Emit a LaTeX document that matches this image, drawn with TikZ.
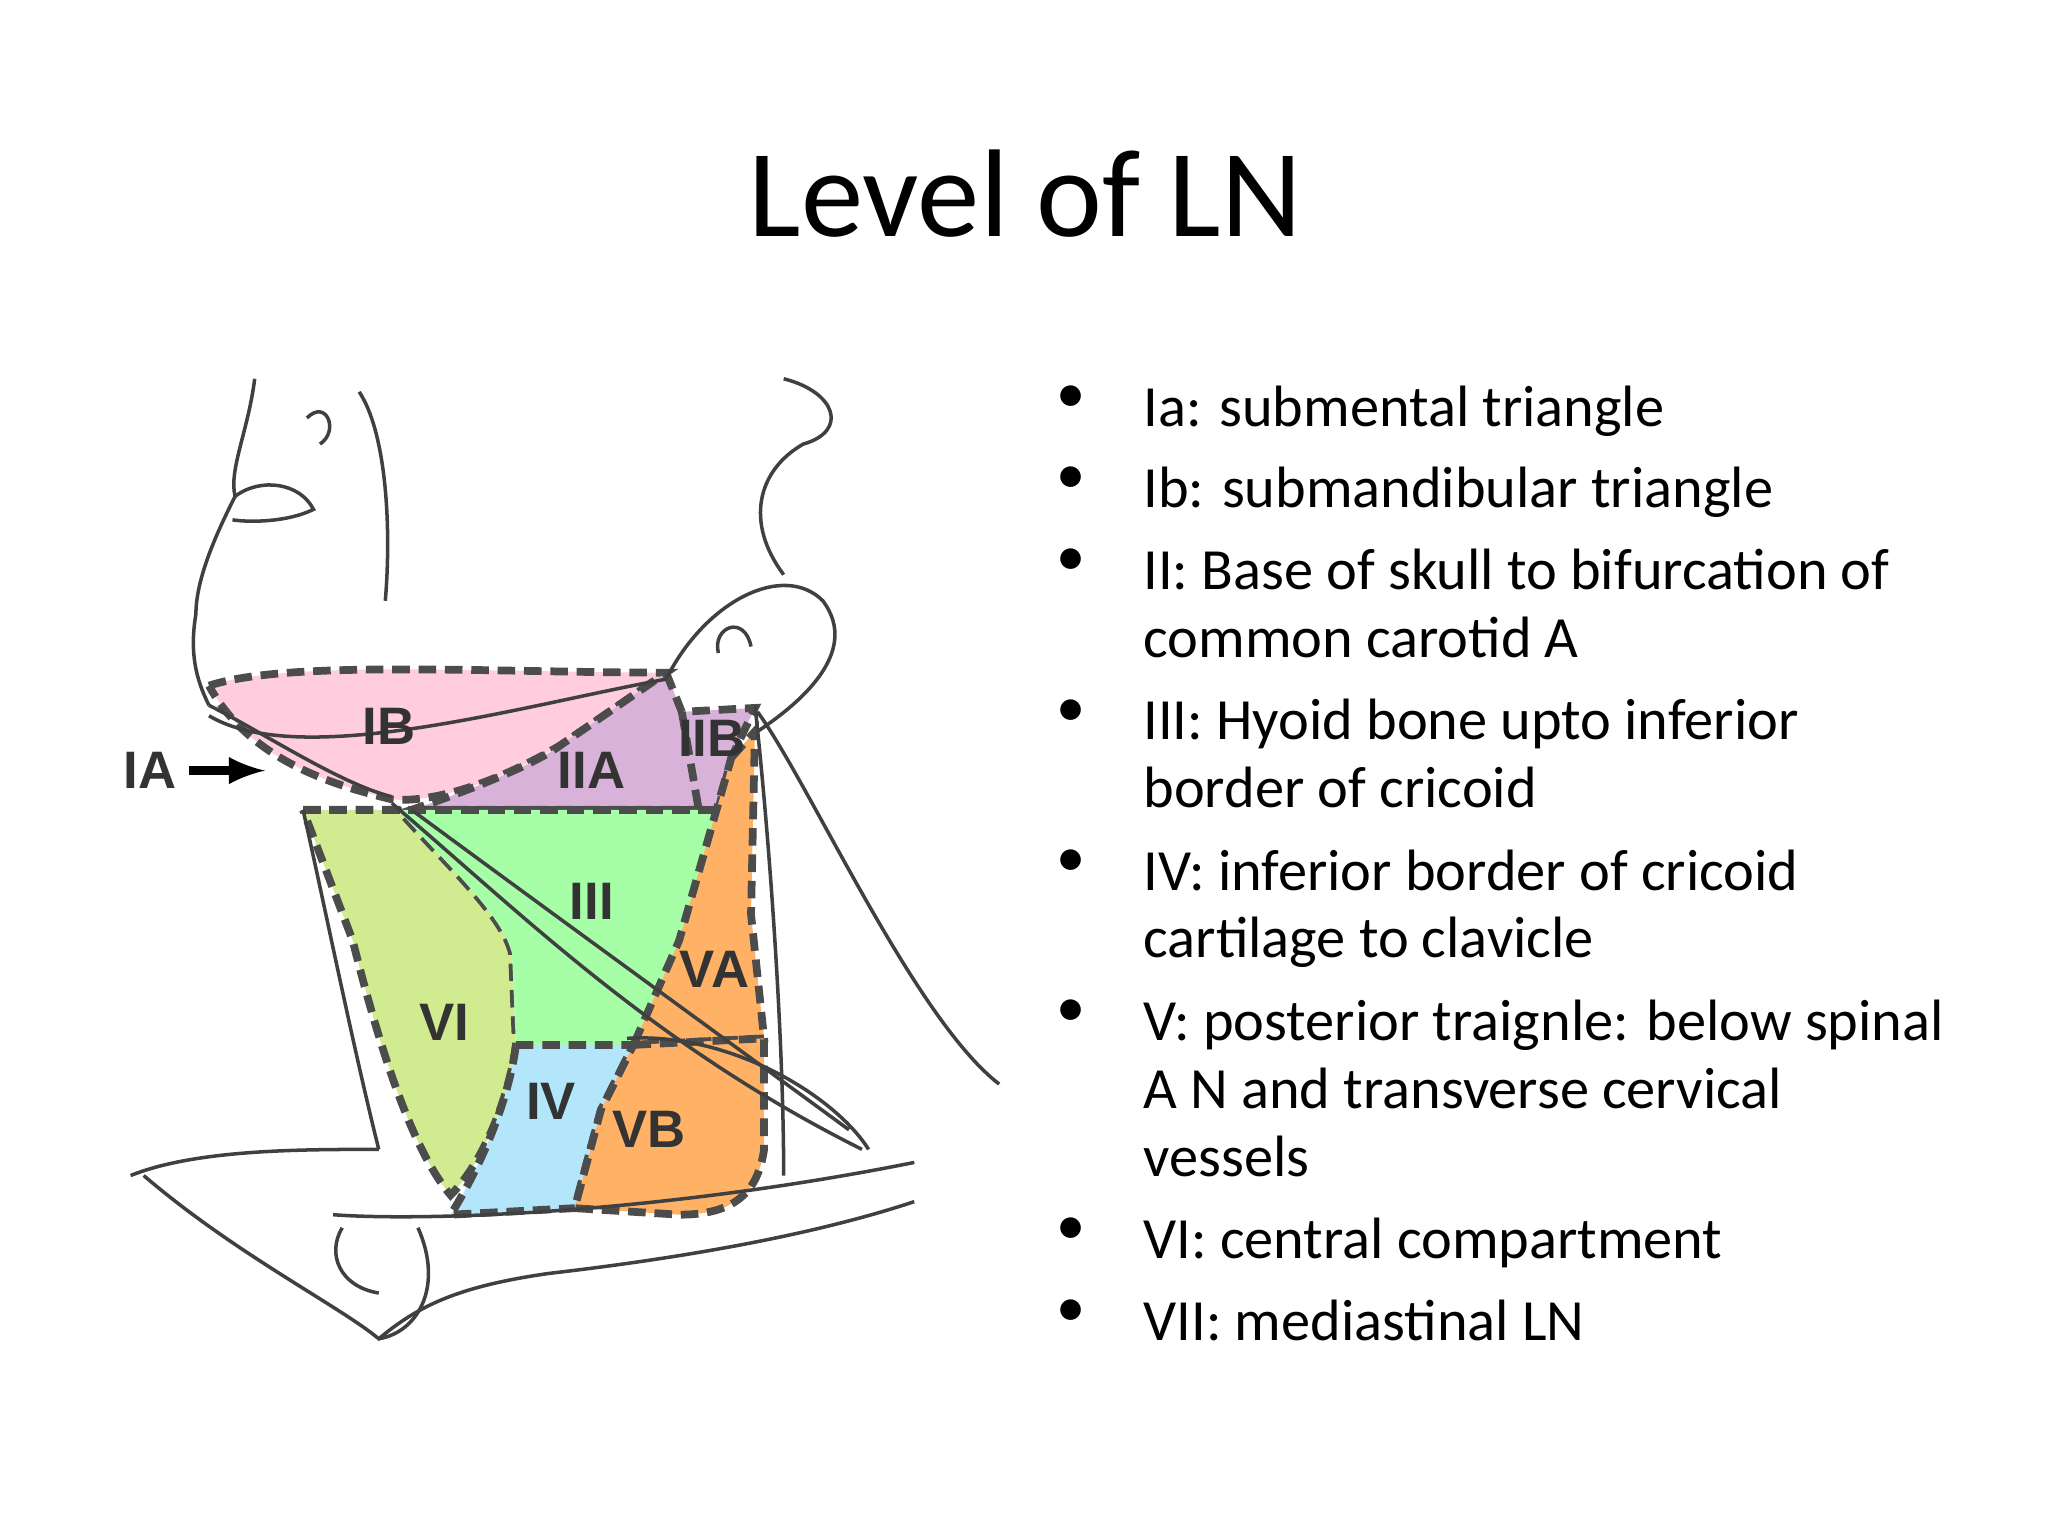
\documentclass[tikz,border=0pt]{standalone}
\usepackage{fontspec}
\setmainfont{Carlito}
\begin{document}
\begin{tikzpicture}[x=0.01306cm,y=-0.01306cm,
  zone/.style={draw=black!70,line width=2.2pt,dash pattern=on 5pt off 2.5pt},
  lab/.style={font=\fontspec{Liberation Sans}\bfseries\fontsize{15}{15}\selectfont,text=black!80},
  sk/.style={draw=black!75,line width=1pt},
  bul/.style={anchor=north west,font=\fontsize{16.6}{19.3}\selectfont,text width=8.3cm,align=flush left}]
\useasboundingbox (0,0) rectangle (1568,1176);
\node (title) at (785,148) {\fontsize{35.5}{38}\selectfont Level of LN};
% colored zones
\path[fill=pink!90!magenta!60,zone] (160,525) .. controls (220,505) and (380,515) .. (510,515) -- (430,570) .. controls (380,600) and (330,615) .. (300,612) .. controls (250,600) and (190,580) .. (160,525) -- cycle;
\path[fill=violet!30,zone] (510,515) -- (522,545) -- (578,542) -- (560,580) -- (550,620) -- (315,620) .. controls (360,605) and (410,585) .. (430,570) -- cycle;
\draw[zone] (522,545) -- (535,620);
\path[fill=yellow!60!green!45,zone] (232,620) -- (305,620) .. controls (340,660) and (385,700) .. (392,730) -- (395,800) .. controls (390,840) and (370,890) .. (345,915) .. controls (315,880) and (290,800) .. (270,720) -- cycle;
\path[fill=green!35] (305,620) -- (550,620) -- (520,720) -- (485,800) -- (395,800) -- (392,730) .. controls (385,700) and (340,660) .. (305,620) -- cycle;
\draw[zone] (232,620) -- (550,620);
\path[fill=orange!60,zone] (560,580) -- (578,560) -- (575,700) -- (585,795) -- (485,800) -- (520,720) -- cycle;
\path[fill=cyan!30,zone] (395,800) -- (485,800) -- (460,850) -- (440,925) -- (345,930) .. controls (370,890) and (390,840) .. (395,800) -- cycle;
\path[fill=orange!60,zone] (485,800) -- (585,795) -- (585,880) .. controls (580,915) and (560,930) .. (520,930) -- (440,925) -- (460,850) -- cycle;
% sketch lines
\draw[sk] (195,290) .. controls (190,330) and (175,360) .. (180,380) .. controls (170,400) and (150,440) .. (150,470) .. controls (145,500) and (150,520) .. (160,540);
\draw[sk] (180,380) .. controls (200,365) and (230,370) .. (240,390) .. controls (220,400) and (190,400) .. (178,398);
\draw[sk] (235,320) .. controls (250,305) and (260,330) .. (245,340);
\draw[sk] (275,300) .. controls (295,330) and (300,400) .. (295,460);
\draw[sk] (600,290) .. controls (640,300) and (650,330) .. (615,340) .. controls (580,360) and (570,400) .. (600,440);
\draw[sk] (510,520) .. controls (540,460) and (600,430) .. (630,460) .. controls (660,500) and (610,540) .. (580,560);
\draw[sk] (550,500) .. controls (545,480) and (570,470) .. (575,495);
\draw[sk] (160,540) .. controls (200,560) and (260,600) .. (300,610);
\draw[sk] (160,548) .. controls (230,590) and (400,540) .. (510,520);
\draw[sk] (300,615) .. controls (400,700) and (500,800) .. (660,880);
\draw[sk] (315,620) .. controls (410,690) and (520,770) .. (650,865);
\draw[sk] (480,795) .. controls (560,790) and (640,840) .. (665,880);
\draw[sk] (578,540) .. controls (590,650) and (600,800) .. (600,900);
\draw[sk] (232,620) .. controls (250,700) and (270,800) .. (290,880);
\draw[sk] (290,880) .. controls (230,880) and (150,880) .. (100,900);
\draw[sk] (110,900) .. controls (180,960) and (260,1000) .. (290,1025) .. controls (320,1000) and (350,985) .. (420,975) .. controls (550,960) and (640,940) .. (700,920);
\draw[sk] (255,930) .. controls (320,935) and (500,930) .. (700,890);
\draw[sk] (580,545) .. controls (620,600) and (700,780) .. (765,830);
\draw[sk] (320,940) .. controls (340,985) and (320,1020) .. (290,1025);
\draw[sk] (262,940) .. controls (250,960) and (260,985) .. (290,990);
% labels
\node[lab] (ib) at (298,556) {IB};
\node[lab] (iia) at (453,590) {IIA};
\node[lab] (iib) at (545,565) {IIB};
\node[lab] (iii) at (453,690) {III};
\node[lab] (va) at (547,742) {VA};
\node[lab] (vi) at (340,783) {VI};
\node[lab] (iv) at (422,843) {IV};
\node[lab] (vb) at (497,865) {VB};
\node[lab] (ia) at (115,590) {IA};
\coordinate (iat) at (203,590);
\draw[line width=2.5pt,-latex] (ia.east) -- (iat);
% bullets
\foreach \y/\t [count=\i] in {286/{Ia: submental triangle},
 348/{Ib: submandibular triangle},
 411/{II: Base of skull to bifurcation of\\ common carotid A},
 526/{III: Hyoid bone upto inferior\\ border of cricoid},
 641/{IV: inferior border of cricoid\\ cartilage to clavicle},
 756/{V: posterior traignle: below spinal\\ A N and transverse cervical\\ vessels},
 923/{VI: central compartment},
 986/{VII: mediastinal LN}}{
 \node[bul] (b\i) at (866,\y) {\t};
 \node[anchor=north,font=\fontsize{16.6}{19.3}\selectfont] (d\i) at (820,\y) {•};
}
\end{tikzpicture}
\end{document}
